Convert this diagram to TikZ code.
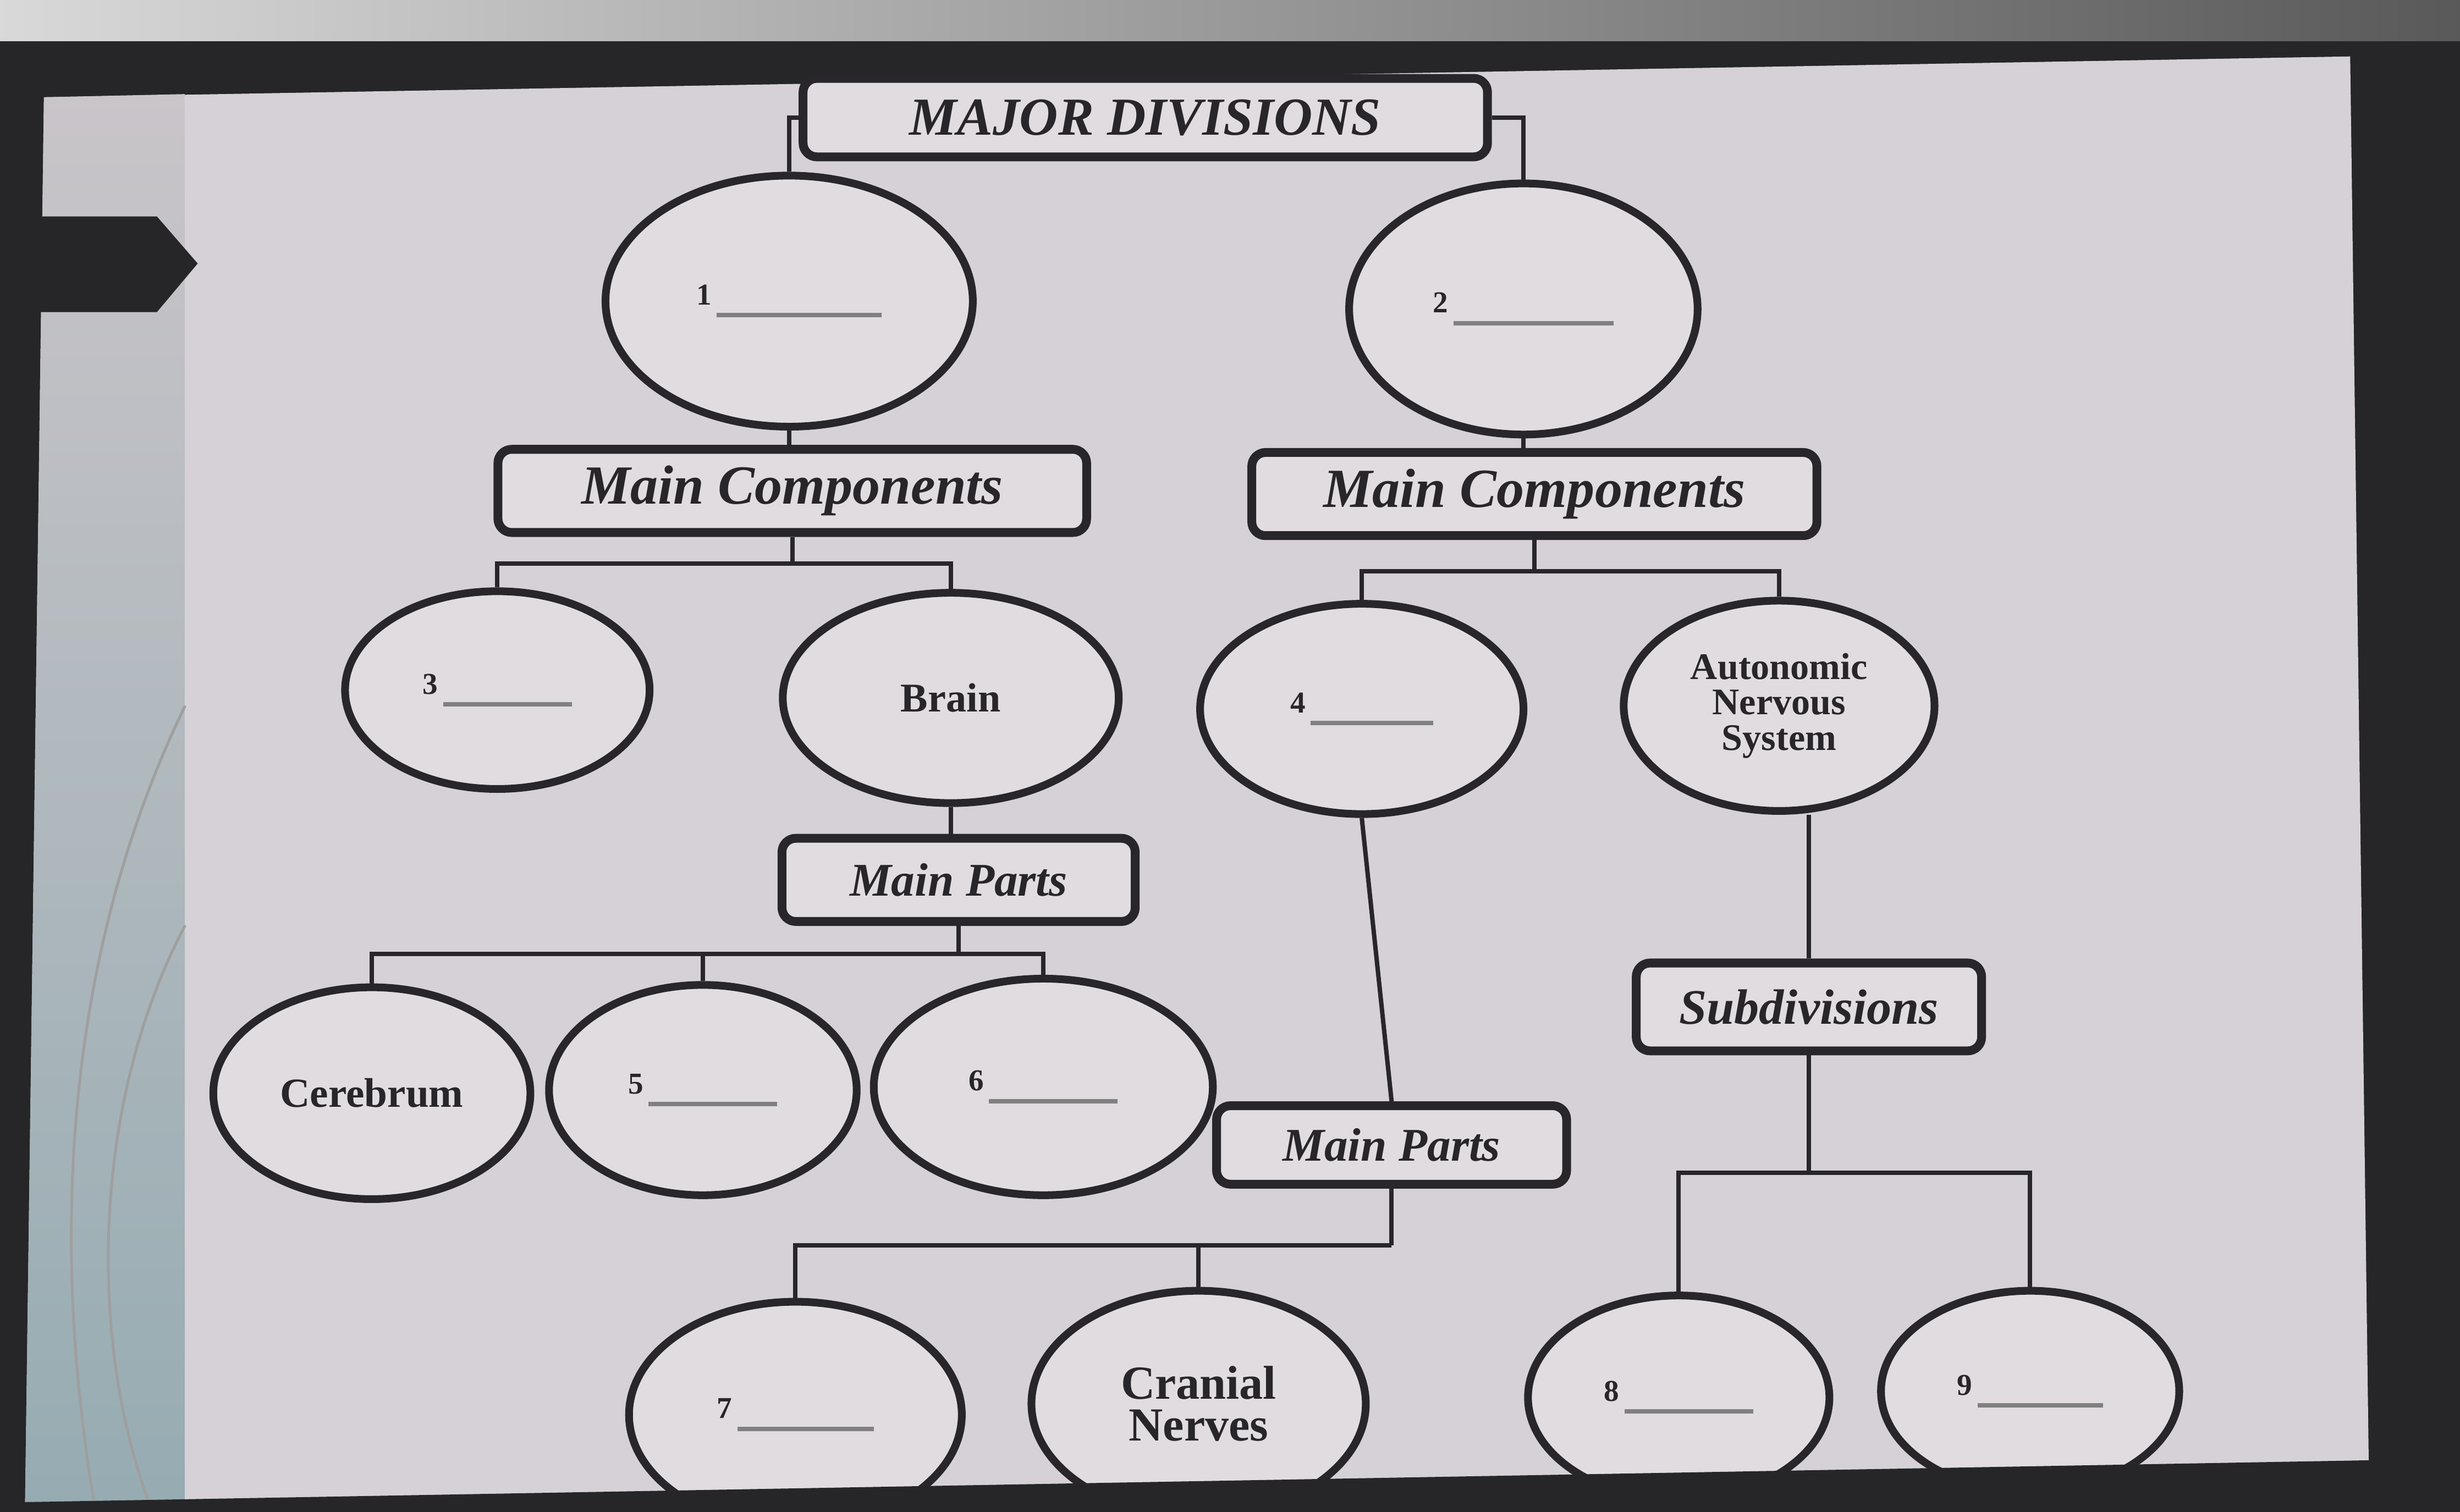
\documentclass[tikz,border=0pt]{standalone}
\usepackage{fontspec}
\setmainfont{Liberation Serif}
\usetikzlibrary{shapes.geometric}

\definecolor{slide}{RGB}{214,209,214}
\definecolor{inner}{RGB}{224,220,224}
\definecolor{frame}{RGB}{38,38,40}
\definecolor{ink}{RGB}{40,38,42}

% number with a blank line after it
\newcommand{\blank}[2][0.82cm]{#2\,\textcolor{gray}{\rule[-0.08cm]{#1}{0.8pt}}}

\tikzset{
  oval/.style={ellipse, draw=ink, line width=1.4pt, fill=inner, inner sep=0pt,
    align=center, text=ink, font=\bfseries\fontsize{5.5}{5.5}\selectfont},
  headbox/.style={draw=ink, line width=1.6pt, rounded corners=2.5pt, fill=inner,
    inner sep=0pt, text=ink, font=\bfseries\itshape\fontsize{8.5}{8.5}\selectfont},
  link/.style={draw=ink, line width=0.8pt}
}

\begin{document}
\begin{tikzpicture}[x=0.01cm, y=-0.01cm]
  \useasboundingbox (0,0) rectangle (1568,964);
  % photo of the screen
  \fill[frame] (0,0) rectangle (1568,964);
  \shade[left color=gray!30, right color=gray!70!black] (0,0) rectangle (1568,26);
  \fill[slide] (28,62) -- (1498,36) -- (1510,945) -- (16,958) -- cycle;
  \shade[top color=slide!85!gray, bottom color={rgb,255:red,150;green,172;blue,178}]
    (28,62) -- (118,60) -- (118,956) -- (16,958) -- cycle;
  \fill[frame] (0,138) -- (100,138) -- (126,168) -- (100,199) -- (0,199) -- cycle;
  \draw[gray!75, line width=0.5pt] (118,450) .. controls (45,600) and (30,780) .. (60,958);
  \draw[gray!75, line width=0.5pt] (118,590) .. controls (60,700) and (55,850) .. (95,958);

  % top
  \node[headbox, minimum width=4.36cm, minimum height=0.5cm, font=\bfseries\itshape\fontsize{9.7}{9.7}\selectfont] (md) at (730,75) {MAJOR DIVISIONS};
  \node[oval, minimum width=2.34cm, minimum height=1.6cm] (d1) at (503,192) {\blank[1.05cm]{1}};
  \node[oval, minimum width=2.22cm, minimum height=1.6cm] (d2) at (971,197) {\blank[1.02cm]{2}};
  \node[headbox, minimum width=3.75cm, minimum height=0.53cm, font=\bfseries\itshape\fontsize{10}{10}\selectfont] (mc1) at (505,313) {Main Components};
  \node[headbox, minimum width=3.6cm, minimum height=0.53cm, font=\bfseries\itshape\fontsize{10}{10}\selectfont] (mc2) at (978,315) {Main Components};

  % second row
  \node[oval, minimum width=1.94cm, minimum height=1.26cm] (d3) at (317,440) {\blank{3}};
  \node[oval, minimum width=2.14cm, minimum height=1.34cm, font=\bfseries\fontsize{7.4}{7.4}\selectfont] (brain) at (606,445) {Brain};
  \node[oval, minimum width=2.06cm, minimum height=1.34cm] (d4) at (868,452) {\blank[0.78cm]{4}};
  \node[oval, minimum width=1.98cm, minimum height=1.34cm, font=\bfseries\fontsize{6.8}{6.4}\selectfont] (ans) at (1134,450) {Autonomic\\Nervous\\System};

  % brain parts
  \node[headbox, minimum width=2.25cm, minimum height=0.53cm] (mp1) at (611,561) {Main Parts};
  \node[oval, minimum width=2.02cm, minimum height=1.35cm, font=\bfseries\fontsize{7.5}{7.5}\selectfont] (cer) at (237,697) {Cerebrum};
  \node[oval, minimum width=1.96cm, minimum height=1.34cm] (d5) at (448,695) {\blank{5}};
  \node[oval, minimum width=2.16cm, minimum height=1.38cm] (d6) at (665,693) {\blank{6}};

  % peripheral parts
  \node[headbox, minimum width=2.23cm, minimum height=0.5cm] (mp2) at (887,730) {Main Parts};
  \node[oval, minimum width=2.12cm, minimum height=1.44cm] (d7) at (507,902) {\blank[0.87cm]{7}};
  \node[oval, minimum width=2.13cm, minimum height=1.44cm, font=\bfseries\fontsize{8.6}{7.6}\selectfont] (cn) at (764,895) {Cranial\\Nerves};

  % autonomic subdivisions
  \node[headbox, minimum width=2.2cm, minimum height=0.56cm, font=\bfseries\itshape\fontsize{9}{9}\selectfont] (sub) at (1153,642) {Subdivisions};
  \node[oval, minimum width=1.92cm, minimum height=1.3cm] (d8) at (1070,891) {\blank{8}};
  \node[oval, minimum width=1.9cm, minimum height=1.28cm] (d9) at (1294,887) {\blank[0.8cm]{9}};

  % connectors
  \draw[link] (md.west) -| (d1.north);
  \draw[link] (md.east) -| (d2.north);
  \draw[link] (d1.south) -- (d1.south |- mc1.north);
  \draw[link] (d2.south) -- (d2.south |- mc2.north);
  \coordinate (j1) at ([yshift=-0.17cm]mc1.south);
  \draw[link] (mc1.south) -- (j1);
  \draw[link] (d3.north) |- (j1) -| (brain.north);
  \coordinate (j2) at ([yshift=-0.2cm]mc2.south);
  \draw[link] (mc2.south) -- (j2);
  \draw[link] (d4.north) |- (j2) -| (ans.north);
  \draw[link] (brain.south) -- (brain.south |- mp1.north);
  \coordinate (j3) at ([yshift=-0.18cm]mp1.south);
  \draw[link] (mp1.south) -- (j3);
  \draw[link] (cer.north) |- (j3) -| (d6.north);
  \draw[link] (j3 -| d5.north) -- (d5.north);
  \draw[link] (d4.south) -- (mp2.north);
  \coordinate (j4) at ([yshift=-0.36cm]mp2.south);
  \draw[link] (mp2.south) -- (j4);
  \draw[link] (d7.north) |- (j4);
  \draw[link] (j4 -| cn.north) -- (cn.north);
  \draw[link] (ans.south -| sub.north) -- (sub.north);
  \coordinate (j5) at ([yshift=-0.75cm]sub.south);
  \draw[link] (sub.south) -- (j5);
  \draw[link] (d8.north) |- (j5) -| (d9.north);

  % screen edge over the bottom row
  \fill[frame] (0,958) -- (1568,930) -- (1568,964) -- (0,964) -- cycle;
\end{tikzpicture}
\end{document}
